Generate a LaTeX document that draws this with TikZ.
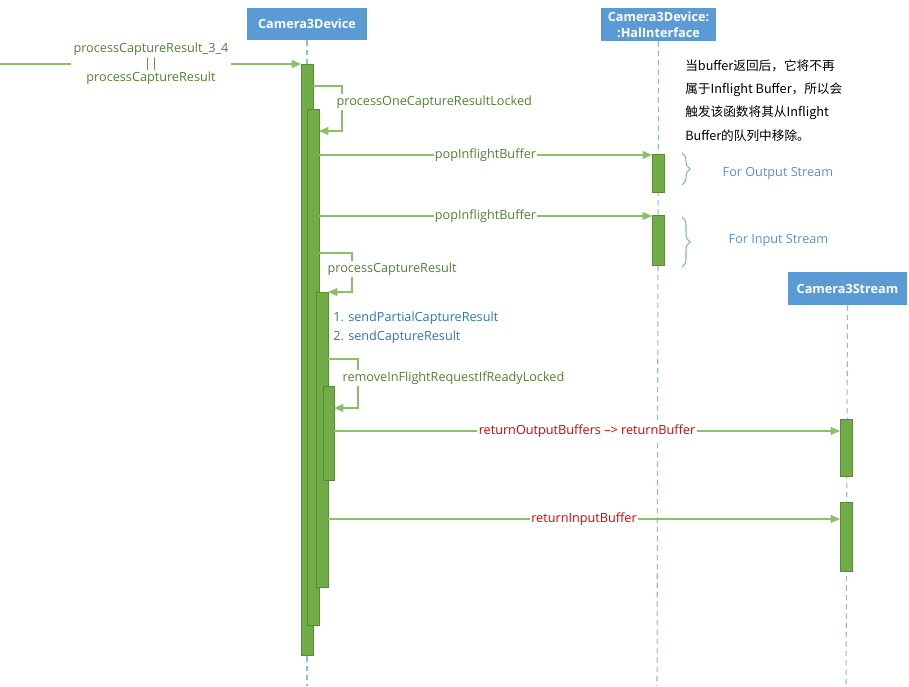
\documentclass[tikz,border=0pt]{standalone}
\usepackage{fontspec}
\setmainfont{Open Sans}
\newfontfamily\cjk{Noto Sans CJK SC}
\usetikzlibrary{arrows.meta,decorations.pathreplacing}
\definecolor{gbar}{HTML}{70AD47}
\definecolor{gline}{HTML}{8CC068}
\definecolor{gtxt}{HTML}{538135}
\definecolor{hdr}{HTML}{5B9BD5}
\definecolor{btxt}{HTML}{2E75B6}
\definecolor{rtxt}{HTML}{E00000}
\definecolor{brc}{HTML}{7FB2E0}
\begin{document}
\begin{tikzpicture}[x=0.75pt,y=-0.75pt,font=\fontsize{9.5}{12}\selectfont,
  hdrbox/.style={fill=hdr,text=white,font=\fontsize{9.5}{12}\selectfont\bfseries,inner sep=0,align=center},
  life/.style={draw=hdr!70,dashed,line width=0.8pt,dash pattern=on 4pt off 3pt},
  bar/.style={fill=gbar,draw=gbar!80!black,line width=0.2pt},
  msg/.style={draw=gline,line width=0.9pt,-{Triangle[length=7pt,width=6pt]}},
  lab/.style={fill=white,inner sep=1pt,text=gtxt},
  rlab/.style={fill=white,inner sep=1pt,text=rtxt},
  brace/.style={draw=brc,line width=0.8pt,decorate,decoration={brace,amplitude=6pt}}]
\useasboundingbox (0,0) rectangle (909,686);
% headers
\node[hdrbox,minimum width=90pt,minimum height=24pt] (dev) at (307,24) {Camera3Device};
\node[hdrbox,minimum width=86pt,minimum height=25pt] (hal) at (658.5,24.5) {Camera3Device:\\:HalInterface};
\node[hdrbox,minimum width=89pt,minimum height=25pt] (str) at (847.5,288.5) {Camera3Stream};
% lifelines
\coordinate (devend) at (307,686);
\coordinate (halend) at (657,686);
\coordinate (strend) at (846,686);
\draw[life] (dev.south) -- (devend);
\draw[life] (hal.south) -- (halend);
\draw[life] (str.south) -- (strend);
% bars
\draw[bar] (301,64) rectangle (313,655);
\draw[bar] (307,109) rectangle (319,625);
\draw[bar] (316,292) rectangle (328,587);
\draw[bar] (323,386) rectangle (334,480);
\draw[bar] (652,154) rectangle (664,192);
\draw[bar] (652,215) rectangle (664,265);
\draw[bar] (840,419) rectangle (852,476);
\draw[bar] (840,502) rectangle (852,571);
% incoming
\coordinate (start) at (0,64);
\coordinate (b1top) at (301,64);
\draw[msg] (start) -- (b1top);
\node[fill=white,inner sep=2pt,text=gtxt,align=center,font=\fontsize{9.5}{11}\selectfont] (inlab) at (151,64) {processCaptureResult\_3\_4\\||\\processCaptureResult};
% self calls
\coordinate (s1a) at (313,86); \coordinate (s1b) at (319,131);
\draw[msg] (s1a) -- (342,86) -- (342,131) -- (s1b);
\node[lab,anchor=west] (l1) at (335,102) {processOneCaptureResultLocked};
\coordinate (s2a) at (319,253); \coordinate (s2b) at (328,292);
\draw[msg] (s2a) -- (352,253) -- (352,292) -- (s2b);
\node[lab,anchor=west] (l2) at (326,269) {processCaptureResult};
\node[text=btxt,anchor=north west,align=left,inner sep=0,font=\fontsize{9.5}{14.3}\selectfont] (send) at (333,312) {1. sendPartialCaptureResult\\2. sendCaptureResult};
\coordinate (s3a) at (328,359); \coordinate (s3b) at (334,408);
\draw[msg] (s3a) -- (358,359) -- (358,408) -- (s3b);
\node[lab,anchor=west] (l3) at (341,378) {removeInFlightRequestIfReadyLocked};
% pop
\coordinate (p1a) at (319,155); \coordinate (p1b) at (652,155);
\draw[msg] (p1a) -- node[lab] {popInflightBuffer} (p1b);
\coordinate (p2a) at (319,216); \coordinate (p2b) at (652,216);
\draw[msg] (p2a) -- node[lab] {popInflightBuffer} (p2b);
% returns
\coordinate (r1a) at (334,431); \coordinate (r1b) at (840,431);
\draw[msg] (r1a) -- node[rlab] {returnOutputBuffers --> returnBuffer} (r1b);
\coordinate (r2a) at (328,519); \coordinate (r2b) at (840,519);
\draw[msg] (r2a) -- node[rlab] {returnInputBuffer} (r2b);
% braces
\draw[brace] (682,153) -- (682,185);
\node[text=btxt!80,anchor=west] (fo) at (718,173) {For Output Stream};
\draw[brace] (682,217) -- (682,267);
\node[text=btxt!80,anchor=west] (fi) at (724,240) {For Input Stream};
% note
\node[anchor=north west,align=left,inner sep=0,font=\cjk\fontsize{9.5}{17.5}\selectfont] (note) at (685,59) {当buffer返回后，它将不再\\属于Inflight Buffer，所以会\\触发该函数将其从Inflight\\Buffer的队列中移除。};
\end{tikzpicture}
\end{document}
